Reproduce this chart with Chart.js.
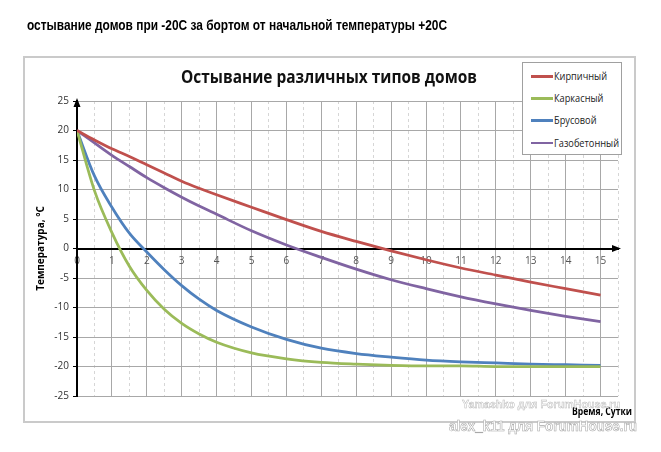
<!DOCTYPE html>
<html><head><meta charset="utf-8">
<script src="https://cdn.jsdelivr.net/npm/chart.js@4.4.1/dist/chart.umd.min.js"></script>
<style>
html,body{margin:0;padding:0;background:#fff;width:661px;height:452px;overflow:hidden;}
#wrap{position:relative;width:661px;height:452px;}
#frame{position:absolute;left:23px;top:56px;width:609px;height:363px;border:2px solid #cacaca;}
canvas{position:absolute;left:0;top:0;}
.txt{position:absolute;white-space:nowrap;transform-origin:0 50%;}
#head{left:27px;top:17px;font:bold 14px 'Liberation Sans',Arial,sans-serif;line-height:16px;color:#000;}
#title{left:181px;top:66px;font:bold 17px 'Open Sans',sans-serif;line-height:22px;color:#111;}
#xtitle{left:572px;top:405px;font:bold 10px 'Open Sans',sans-serif;line-height:13px;color:#000;}
#wm1{left:462px;top:397px;font:bold 11px 'Liberation Sans',sans-serif;line-height:14px;color:#fff;-webkit-text-stroke:0.5px #b8b8b8;}
#wm2{left:449px;top:417px;font:bold 15px 'Liberation Sans',sans-serif;line-height:18px;color:#fff;-webkit-text-stroke:0.6px #a8a8a8;}
#legend{position:absolute;left:522px;top:62px;width:98px;height:91px;border:1px solid #a0a0a0;background:#fff;}
.row{position:absolute;left:0;height:14px;width:98px;}
.row .ln{position:absolute;left:8px;top:6px;width:22px;height:2.5px;}
.row .lb{position:absolute;left:31px;top:0;font:10.5px 'Open Sans',sans-serif;line-height:14px;color:#222;white-space:nowrap;transform-origin:0 50%;}
</style></head>
<body><div id="wrap">
<div id="frame"></div>
<canvas id="c" width="661" height="452"></canvas>
<div id="head" class="txt">остывание домов при -20С за бортом от начальной температуры +20С</div>
<div id="title" class="txt">Остывание различных типов домов</div>
<div id="xtitle" class="txt">Время, Сутки</div>
<div id="wm1" class="txt">Yamashko для ForumHouse.ru</div>
<div id="wm2" class="txt">alex_k11 для ForumHouse.ru</div>
<div id="legend"></div>
</div>
<script>
const days = [0,0.5,1,1.5,2,2.5,3,3.5,4,5,6,7,8,9,10,11,12,13,14,15];
const seriesNames = ['Кирпичный','Каркасный','Брусовой','Газобетонный'];
const brick   = [20,18.4,16.9,15.6,14.2,12.8,11.4,10.2,9.1,7.0,4.9,2.9,1.2,-0.4,-1.9,-3.3,-4.5,-5.7,-6.8,-7.9];
const frameH  = [20,9.8,2.7,-3.0,-7.1,-10.3,-12.7,-14.5,-15.9,-17.7,-18.7,-19.3,-19.6,-19.8,-19.9,-19.9,-20,-20,-20,-20];
const timber  = [20,12.3,7.0,2.6,-0.6,-3.6,-6.3,-8.6,-10.5,-13.3,-15.4,-16.9,-17.8,-18.4,-18.9,-19.2,-19.4,-19.6,-19.7,-19.8];
const aerated = [20,17.9,15.8,13.9,12.0,10.3,8.7,7.2,5.8,3.0,0.6,-1.5,-3.5,-5.3,-6.8,-8.2,-9.4,-10.5,-11.5,-12.4];
const xTickLabels = ['0','1','2','3','4','5','6','7','8','9','10','11','12','13','14','15'];
const yTickLabels = ['-25','-20','-15','-10','-5','0','5','10','15','20','25'];
const colors = ['#c0504d','#9bbb59','#4f81bd','#8064a2'];
const values = [brick, frameH, timber, aerated];

const isInt = v => Math.abs(v - Math.round(v)) < 1e-9;

const arrows = {
  id:'arrows',
  afterDraw(chart){
    const {ctx, chartArea:a, scales:{x,y}} = chart;
    const x0 = x.getPixelForValue(0), y0 = y.getPixelForValue(0);
    ctx.save(); ctx.fillStyle='#000';
    ctx.beginPath(); ctx.moveTo(x0, a.top-3); ctx.lineTo(x0-3.5, a.top+6); ctx.lineTo(x0+3.5, a.top+6); ctx.closePath(); ctx.fill();
    ctx.beginPath(); ctx.moveTo(a.right+3, y0); ctx.lineTo(a.right-6, y0-3.5); ctx.lineTo(a.right-6, y0+3.5); ctx.closePath(); ctx.fill();
    ctx.restore();
  }
};

const chart = new Chart(document.getElementById('c'), {
  type:'line',
  data:{
    datasets: seriesNames.map((n,i)=>({
      label:n,
      data: days.map((d,j)=>({x:d,y:values[i][j]})),
      borderColor:colors[i], backgroundColor:colors[i],
      borderWidth:2.75, pointRadius:0, cubicInterpolationMode:'monotone', fill:false
    }))
  },
  options:{
    responsive:false, animation:false, devicePixelRatio:1,
    layout:{padding:{left:35,top:101,right:43,bottom:56}},
    plugins:{legend:{display:false},title:{display:false},tooltip:{enabled:false}},
    scales:{
      x:{type:'linear',position:'center',min:0,max:15.5,
        ticks:{stepSize:0.5,autoSkip:false,maxRotation:0,padding:7,color:'#555',
          font:{family:'Open Sans',size:10},
          callback:(v)=> (isInt(v) && xTickLabels[Math.round(v)] !== undefined) ? xTickLabels[Math.round(v)] : ''},
        grid:{color:(c)=> (c.tick && !isInt(c.tick.value)) ? '#d6d6d6' : '#a8a8a8', lineWidth:1, drawTicks:false},
        border:{display:true,color:'#000',width:2,dash:(c)=> (c.tick && !isInt(c.tick.value)) ? [3,3] : []}
      },
      y:{type:'linear',min:-25,max:25,
        ticks:{stepSize:5,padding:4,color:'#333',font:{family:'Open Sans',size:10},
          callback:(v)=> yTickLabels[Math.round((v+25)/5)]},
        grid:{color:'#a8a8a8',lineWidth:1,drawTicks:true,tickLength:4,tickColor:'#000'},
        border:{display:true,color:'#000',width:2},
        title:{display:true,text:'Температура, °C',color:'#000',font:{family:'Open Sans',size:10,weight:'bold'},padding:{top:0,bottom:0}},
        afterFit:(s)=>{s.width=42;}
      }
    }
  },
  plugins:[arrows]
});

// HTML legend from the chart's datasets
const leg = document.getElementById('legend');
const labels = [];
chart.data.datasets.forEach((ds,i)=>{
  const r = document.createElement('div'); r.className='row'; r.style.top=(6+22.2*i)+'px';
  r.innerHTML = '<div class="ln" style="background:'+ds.borderColor+'"></div><div class="lb">'+ds.label+'</div>';
  leg.appendChild(r);
  labels.push(r.querySelector('.lb'));
});
const widest = Math.max(...labels.map(l=>l.getBoundingClientRect().width));
labels.forEach(l=>{ l.style.transform='scaleX('+(65/widest)+')'; });

function fit(id, w){
  const el = document.getElementById(id);
  const cur = el.getBoundingClientRect().width;
  el.style.transform = 'scaleX(' + (w/cur) + ')';
}
fit('head', 420);
fit('title', 296);
fit('xtitle', 60);
fit('wm1', 158);
fit('wm2', 188);
</script>
</body></html>
